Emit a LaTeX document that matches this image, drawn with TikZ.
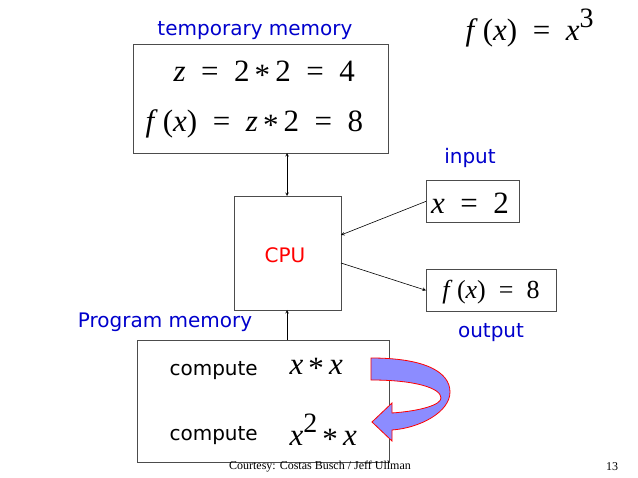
\documentclass[tikz,border=0pt]{standalone}
\usepackage{fontspec}
\setmainfont{Liberation Serif}
\newfontfamily\lbl{DejaVu Sans}
\newcommand{\vi}[1]{\textit{#1}}
\newcommand{\eqs}{\ \ =\ \ }
\begin{document}
\begin{tikzpicture}[x=1pt,y=-1pt,
 box/.style={draw=black!70,line width=0.7pt},
 lab/.style={font=\lbl\fontsize{20}{24}\selectfont},
 m/.style={font=\fontsize{31}{36}\selectfont},
 arr/.style={->,>=stealth,line width=0.6pt}]
\useasboundingbox (0,0) rectangle (638,478);
\draw[box] (133,44) rectangle (388,153);
\draw[box] (234,196) rectangle (341,310);
\draw[box] (137,340) rectangle (389,462);
\node[box,minimum width=93pt,minimum height=42pt,anchor=north west] (in) at (426,180) {};
\node[box,minimum width=130pt,minimum height=42pt,anchor=north west] (out) at (426,269) {};
\coordinate (t1) at (287,153); \coordinate (c1) at (287,196);
\coordinate (c2) at (287,310); \coordinate (p1) at (287,340);
\node[lab,text=blue!80!black] (tm) at (255,31) {temporary memory};
\node[m,anchor=west] (f3) at (462,28) {\vi{f}\,(\vi{x})\eqs\vi{x}\raisebox{13pt}{\fontsize{28}{30}\selectfont 3}};
\node[m,anchor=west] (z) at (170,73) {\vi{z}\eqs2\,\raisebox{-4pt}{*}\,2\eqs4};
\node[m,anchor=west] (fz) at (142,124) {\vi{f}\,(\vi{x})\eqs\vi{z}\,\raisebox{-4pt}{*}\,2\eqs8};
\node[lab,text=blue!80!black] (il) at (470,158) {input};
\node[m] (x2) at (470,203) {\vi{x}\eqs2};
\node[lab,text=red] (cpu) at (285,255) {CPU};
\node[m,font=\fontsize{26}{30}\selectfont] (f8) at (491,292) {\vi{f}\,(\vi{x})\eqs8};
\node[lab,text=blue!80!black] (ol) at (491,333) {output};
\node[lab,text=blue!80!black] (pm) at (165,322) {Program memory};
\node[lab,anchor=west] (c1t) at (166,371) {compute};
\node[lab,anchor=west] (c2t) at (166,436) {compute};
\node[m,anchor=west] (xx) at (286,368) {\vi{x}\,\raisebox{-4pt}{*}\,\vi{x}};
\node[m,anchor=west] (x2x) at (286,432) {\vi{x}\raisebox{13pt}{\fontsize{28}{30}\selectfont 2}\,\raisebox{-4pt}{*}\,\vi{x}};
\node[font=\fontsize{12}{14}\selectfont] (ft) at (320,467) {Courtesy: Costas Busch / Jeff Ullman};
\node[font=\fontsize{12}{14}\selectfont] (pg) at (612,467) {13};
\draw[arr,<->] (t1) -- (c1);
\draw[arr] (p1) -- (c2);
\draw[arr] (in.west) -- (341,235);
\draw[arr] (341,263) -- (out.west);
\draw[draw=red,fill=blue!45!white,line width=0.8pt]
 (371,358) .. controls (425,358) and (450,372) .. (450,392)
 .. controls (450,412) and (420,428) .. (392,430) -- (392,441) -- (372,422) -- (392,403) -- (392,413)
 .. controls (420,411) and (441,405) .. (441,398)
 .. controls (441,388) and (415,380) .. (371,380) -- cycle;
\end{tikzpicture}
\end{document}
